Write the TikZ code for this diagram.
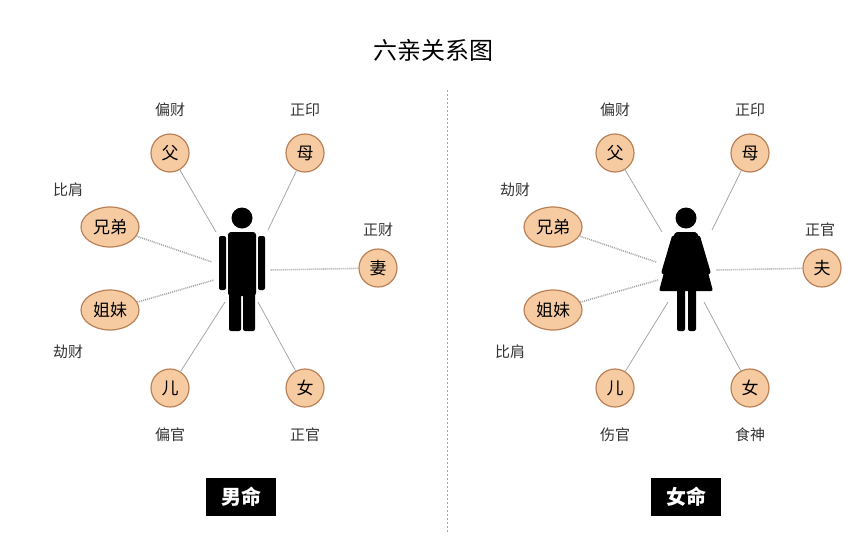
\documentclass[tikz,border=0pt]{standalone}
\usepackage{fontspec}
\usetikzlibrary{shapes.geometric}
\newfontfamily\cjk{Noto Sans CJK SC}
\definecolor{cfill}{HTML}{F6CBA2}
\definecolor{cedge}{HTML}{B98158}
\definecolor{lab}{HTML}{333333}
\begin{document}
\begin{tikzpicture}[x=1pt,y=-1pt,font=\cjk,
  rel/.style={circle,draw=cedge,fill=cfill,line width=1.2pt,minimum size=38pt,inner sep=0pt,font=\cjk\fontsize{17}{17}\selectfont},
  rel2/.style={ellipse,draw=cedge,fill=cfill,line width=1.2pt,minimum width=58pt,minimum height=40pt,inner sep=0pt,font=\cjk\fontsize{17}{17}\selectfont},
  lb/.style={text=lab,font=\cjk\fontsize{15}{15}\selectfont},
  solidc/.style={draw=gray!70,line width=0.8pt},
  dotc/.style={draw=gray!70,line width=1.6pt,dash pattern=on 1pt off 1pt},
  tag/.style={fill=black,text=white,font=\cjk\bfseries\fontsize{20}{20}\selectfont,minimum width=70pt,minimum height=38pt,inner sep=0pt}]
\useasboundingbox (0,0) rectangle (867,541);
\node (title) at (433,50) {\fontsize{24}{24}\selectfont 六亲关系图};
\draw[gray!70,line width=0.8pt,dash pattern=on 2pt off 2pt] (447,90) -- (447,532);
% ===== left =====
\fill (242,218) circle (10.5);
\fill[rounded corners=3pt] (228,232) rectangle (256,296);
\fill[rounded corners=2pt] (219,236) rectangle (226,290);
\fill[rounded corners=2pt] (258,236) rectangle (265,290);
\fill[rounded corners=2pt] (229,288) rectangle (241,331);
\fill[rounded corners=2pt] (243,288) rectangle (255,331);
\node[rel] (f1) at (170,153) {父};
\node[rel] (m1) at (305,153) {母};
\node[rel2] (b1) at (110,227) {兄弟};
\node[rel] (w1) at (378,268) {妻};
\node[rel2] (s1) at (110,310) {姐妹};
\node[rel] (er1) at (170,388) {儿};
\node[rel] (nv1) at (305,388) {女};
\node[lb] (lf1) at (170,110) {偏财};
\node[lb] (lm1) at (305,110) {正印};
\node[lb] (lb1) at (68,190) {比肩};
\node[lb] (lw1) at (378,230) {正财};
\node[lb] (ls1) at (68,352) {劫财};
\node[lb] (le1) at (170,435) {偏官};
\node[lb] (ln1) at (305,435) {正官};
\coordinate (pf1) at (216,232);
\coordinate (pm1) at (268,230);
\coordinate (pb1) at (212,262);
\coordinate (ps1) at (214,280);
\coordinate (pw1) at (270,270);
\coordinate (pe1) at (225,302);
\coordinate (pn1) at (258,302);
\draw[solidc] (f1) -- (pf1);
\draw[solidc] (m1) -- (pm1);
\draw[dotc] (b1) -- (pb1);
\draw[dotc] (s1) -- (ps1);
\draw[dotc] (w1) -- (pw1);
\draw[solidc] (er1) -- (pe1);
\draw[solidc] (nv1) -- (pn1);
\node[tag] (man) at (241,497) {男命};
% ===== right =====
\fill (686,218) circle (10.5);
\fill[rounded corners=2pt] (675,232) -- (697,232) -- (713,291) -- (659,291) -- cycle;
\draw[line width=5pt,line cap=round] (674,238) -- (664,272);
\draw[line width=5pt,line cap=round] (698,238) -- (708,272);
\fill[rounded corners=2pt] (677,286) rectangle (685,331);
\fill[rounded corners=2pt] (688,286) rectangle (696,331);
\node[rel] (f2) at (615,153) {父};
\node[rel] (m2) at (750,153) {母};
\node[rel2] (b2) at (553,227) {兄弟};
\node[rel] (w2) at (822,268) {夫};
\node[rel2] (s2) at (553,310) {姐妹};
\node[rel] (er2) at (615,388) {儿};
\node[rel] (nv2) at (750,388) {女};
\node[lb] (lf2) at (615,110) {偏财};
\node[lb] (lm2) at (750,110) {正印};
\node[lb] (lb2) at (515,190) {劫财};
\node[lb] (lw2) at (820,230) {正官};
\node[lb] (ls2) at (510,352) {比肩};
\node[lb] (le2) at (615,435) {伤官};
\node[lb] (ln2) at (750,435) {食神};
\coordinate (pf2) at (662,232);
\coordinate (pm2) at (712,230);
\coordinate (pb2) at (656,262);
\coordinate (ps2) at (658,280);
\coordinate (pw2) at (716,270);
\coordinate (pe2) at (668,302);
\coordinate (pn2) at (704,302);
\draw[solidc] (f2) -- (pf2);
\draw[solidc] (m2) -- (pm2);
\draw[dotc] (b2) -- (pb2);
\draw[dotc] (s2) -- (ps2);
\draw[dotc] (w2) -- (pw2);
\draw[solidc] (er2) -- (pe2);
\draw[solidc] (nv2) -- (pn2);
\node[tag] (woman) at (686,497) {女命};
\end{tikzpicture}
\end{document}
